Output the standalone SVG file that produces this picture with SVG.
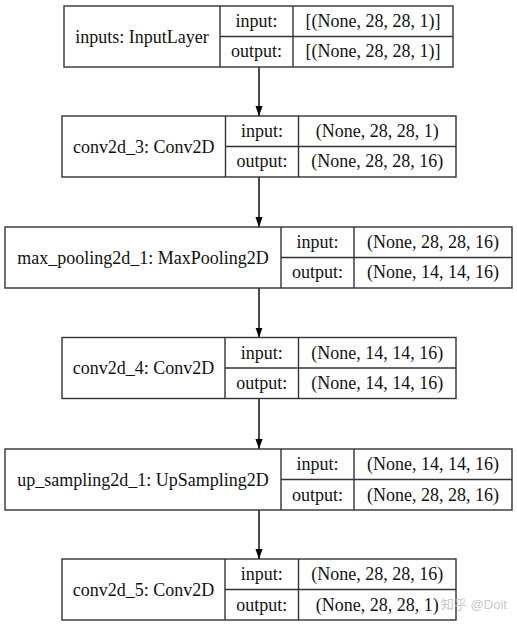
<svg xmlns="http://www.w3.org/2000/svg" width="517" height="627" viewBox="0 0 517 627" font-family="'Liberation Serif', 'DejaVu Serif', serif">
<defs>
<marker id="arr" markerWidth="10" markerHeight="14" refX="14" refY="5" orient="auto" markerUnits="userSpaceOnUse" viewBox="0 0 14 10">
<path d="M0,0 L14,5 L0,10 Z" fill="#000"/>
</marker>
</defs>
<style>
.box{fill:#fff;stroke:#333;stroke-width:1.4}
.ln{stroke:#333;stroke-width:1.4}
.t{font-family:'Liberation Serif','Times New Roman',serif;font-size:18px;fill:#111;text-anchor:middle}
.edge{stroke:#000;stroke-width:1.4;fill:none}
.wm{font-family:'Liberation Sans','Noto Sans CJK SC',sans-serif;font-size:13px;fill:#c4c4c4;opacity:0.9}
</style>
<rect width="517" height="627" fill="#fff"/>
<g id="connectors">
<line class="edge" x1="259" y1="67" x2="259" y2="116" marker-end="url(#arr)"/>
<line class="edge" x1="259" y1="177" x2="259" y2="227" marker-end="url(#arr)"/>
<line class="edge" x1="259" y1="288" x2="259" y2="337.5" marker-end="url(#arr)"/>
<line class="edge" x1="259" y1="398.5" x2="259" y2="449" marker-end="url(#arr)"/>
<line class="edge" x1="259" y1="510" x2="259" y2="559" marker-end="url(#arr)"/>
</g>
<g id="inputs" class="t">
<rect class="box" x="64" y="6" width="389" height="61"/>
<line class="ln" x1="220" y1="6" x2="220" y2="67"/>
<line class="ln" x1="293" y1="6" x2="293" y2="67"/>
<line class="ln" x1="220" y1="36.5" x2="453" y2="36.5"/>
<text x="142" y="42.5">inputs: InputLayer</text>
<text x="256.5" y="27">input:</text>
<text x="256.5" y="57">output:</text>
<text x="373" y="27">[(None, 28, 28, 1)]</text>
<text x="373" y="57">[(None, 28, 28, 1)]</text>
</g>
<g id="conv2d_3" class="t">
<rect class="box" x="62" y="116" width="394" height="61"/>
<line class="ln" x1="225.5" y1="116" x2="225.5" y2="177"/>
<line class="ln" x1="298.5" y1="116" x2="298.5" y2="177"/>
<line class="ln" x1="225.5" y1="146.5" x2="456" y2="146.5"/>
<text x="143.75" y="152.5">conv2d_3: Conv2D</text>
<text x="262" y="137">input:</text>
<text x="262" y="167">output:</text>
<text x="377.25" y="137">(None, 28, 28, 1)</text>
<text x="377.25" y="167">(None, 28, 28, 16)</text>
</g>
<g id="max_pooling2d_1" class="t">
<rect class="box" x="5" y="227" width="507" height="61"/>
<line class="ln" x1="281" y1="227" x2="281" y2="288"/>
<line class="ln" x1="354" y1="227" x2="354" y2="288"/>
<line class="ln" x1="281" y1="257.5" x2="512" y2="257.5"/>
<text x="143" y="263.5">max_pooling2d_1: MaxPooling2D</text>
<text x="317.5" y="248">input:</text>
<text x="317.5" y="278">output:</text>
<text x="433" y="248">(None, 28, 28, 16)</text>
<text x="433" y="278">(None, 14, 14, 16)</text>
</g>
<g id="conv2d_4" class="t">
<rect class="box" x="62" y="337.5" width="394" height="61"/>
<line class="ln" x1="225" y1="337.5" x2="225" y2="398.5"/>
<line class="ln" x1="298.5" y1="337.5" x2="298.5" y2="398.5"/>
<line class="ln" x1="225" y1="368" x2="456" y2="368"/>
<text x="143.5" y="374">conv2d_4: Conv2D</text>
<text x="261.75" y="358.5">input:</text>
<text x="261.75" y="389">output:</text>
<text x="377.25" y="358.5">(None, 14, 14, 16)</text>
<text x="377.25" y="389">(None, 14, 14, 16)</text>
</g>
<g id="up_sampling2d_1" class="t">
<rect class="box" x="5" y="449" width="507" height="61"/>
<line class="ln" x1="281" y1="449" x2="281" y2="510"/>
<line class="ln" x1="354" y1="449" x2="354" y2="510"/>
<line class="ln" x1="281" y1="479.5" x2="512" y2="479.5"/>
<text x="143" y="485.5">up_sampling2d_1: UpSampling2D</text>
<text x="317.5" y="470">input:</text>
<text x="317.5" y="500.5">output:</text>
<text x="433" y="470">(None, 14, 14, 16)</text>
<text x="433" y="500.5">(None, 28, 28, 16)</text>
</g>
<g id="conv2d_5" class="t">
<rect class="box" x="62" y="559" width="394" height="61"/>
<line class="ln" x1="225" y1="559" x2="225" y2="620"/>
<line class="ln" x1="298.5" y1="559" x2="298.5" y2="620"/>
<line class="ln" x1="225" y1="589.5" x2="456" y2="589.5"/>
<text x="143.5" y="595.5">conv2d_5: Conv2D</text>
<text x="261.75" y="580">input:</text>
<text x="261.75" y="610.5">output:</text>
<text x="377.25" y="610.5">(None, 28, 28, 1)</text>
<text x="377.25" y="580">(None, 28, 28, 16)</text>
</g>
<text class="wm" x="441" y="609">知乎 @Doit</text>
</svg>
